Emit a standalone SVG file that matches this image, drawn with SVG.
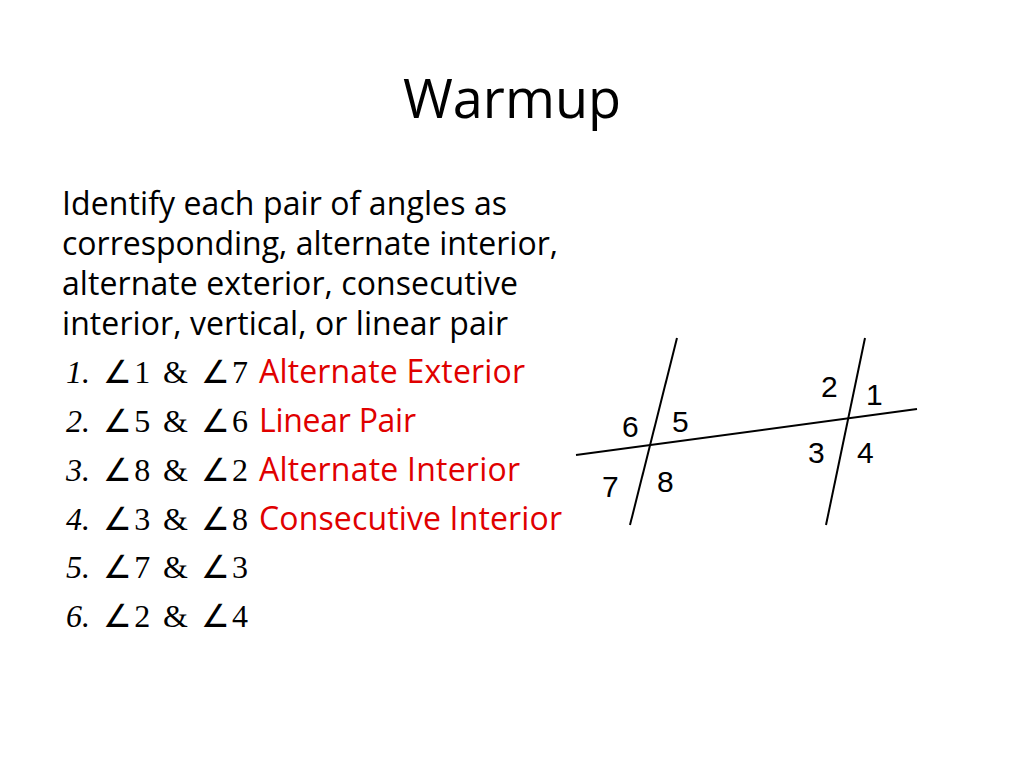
<svg xmlns="http://www.w3.org/2000/svg" width="1024" height="768" viewBox="0 0 1024 768">
<style>
.b{font-family:"Open Sans","Liberation Sans",sans-serif;font-size:32px;fill:#000}
.n{font-family:"Liberation Serif",serif;font-size:32px;fill:#000}
.i{font-style:italic}
.r{fill:#e00000}
.d{font-family:"Liberation Sans",Arial,sans-serif;font-size:30px;fill:#000}
line{stroke:#000;stroke-width:2}
</style>
<rect width="1024" height="768" fill="#fff"/>
<text x="512" y="118" text-anchor="middle" font-family="'Open Sans','Liberation Sans',sans-serif" font-size="54">Warmup</text>
<text class="b" x="62" y="215" textLength="445">Identify each pair of angles as</text>
<text class="b" x="62" y="255" textLength="496">corresponding, alternate interior,</text>
<text class="b" x="62" y="295" textLength="456">alternate exterior, consecutive</text>
<text class="b" x="62" y="335" textLength="446">interior, vertical, or linear pair</text>
<g>
<text x="66" y="383" class="n i">1.</text><text x="103" y="383" class="n" textLength="145">∠1 &amp; ∠7</text><text x="259" y="383" class="b r" textLength="266">Alternate Exterior</text>
<text x="66" y="432" class="n i">2.</text><text x="103" y="432" class="n" textLength="145">∠5 &amp; ∠6</text><text x="259" y="432" class="b r" textLength="157">Linear Pair</text>
<text x="66" y="481" class="n i">3.</text><text x="103" y="481" class="n" textLength="145">∠8 &amp; ∠2</text><text x="259" y="481" class="b r" textLength="261">Alternate Interior</text>
<text x="66" y="530" class="n i">4.</text><text x="103" y="530" class="n" textLength="145">∠3 &amp; ∠8</text><text x="259" y="530" class="b r" textLength="303">Consecutive Interior</text>
<text x="66" y="578" class="n i">5.</text><text x="103" y="578" class="n" textLength="145">∠7 &amp; ∠3</text>
<text x="66" y="627" class="n i">6.</text><text x="103" y="627" class="n" textLength="145">∠2 &amp; ∠4</text>
</g>
<line x1="677" y1="338" x2="630" y2="525"/>
<line x1="865" y1="338" x2="826" y2="525"/>
<line x1="576" y1="455" x2="917" y2="409"/>
<text class="d" x="622" y="437">6</text>
<text class="d" x="672" y="432">5</text>
<text class="d" x="602" y="497">7</text>
<text class="d" x="657" y="492">8</text>
<text class="d" x="821" y="397">2</text>
<text class="d" x="866" y="405">1</text>
<text class="d" x="808" y="463">3</text>
<text class="d" x="857" y="463">4</text>
</svg>
